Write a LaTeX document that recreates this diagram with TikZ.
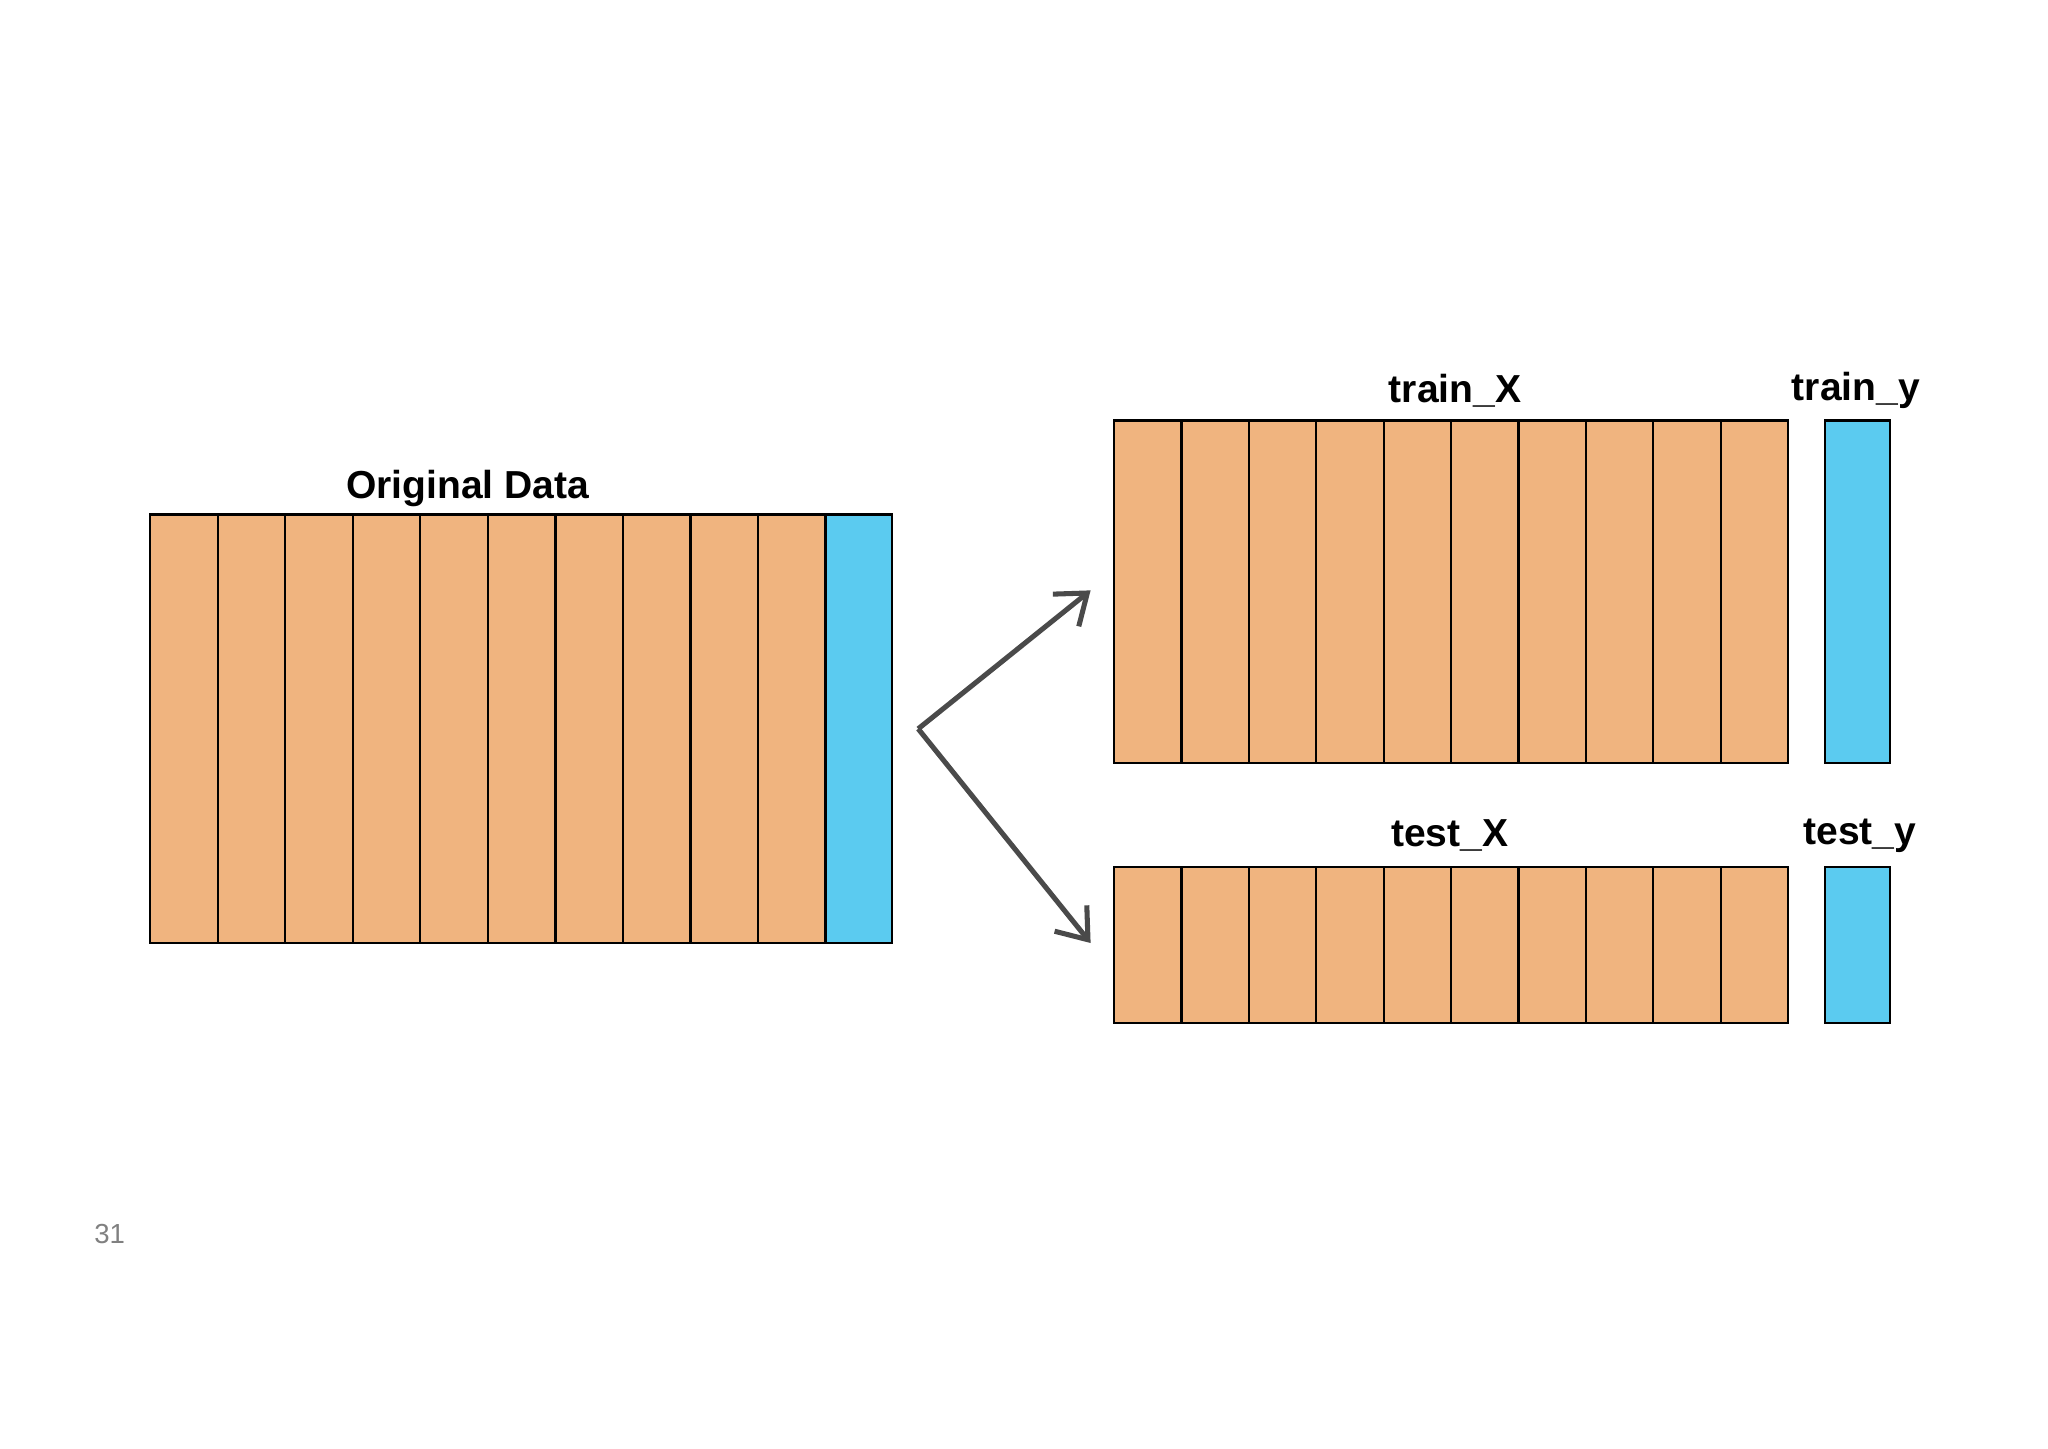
\documentclass[tikz,border=0pt]{standalone}
\usepackage{fontspec}
\setmainfont{Liberation Sans}
\usetikzlibrary{arrows.meta}
\definecolor{org}{HTML}{F0B47F}
\definecolor{blu}{HTML}{5BCBF0}
\definecolor{arr}{HTML}{4A4A4A}
\begin{document}
\begin{tikzpicture}[x=0.01cm,y=-0.01cm,
  cell/.style={draw=black,line width=0.5pt},
  lbl/.style={font=\fontsize{8.5}{10}\selectfont\bfseries,inner sep=0pt},
  conn/.style={draw=arr,line width=1.1pt,-{Straight Barb[length=6pt,width=9pt,line width=1.1pt]}}]
\useasboundingbox (0,0) rectangle (1568,1109);
% original
\foreach \i in {0,...,9}{\fill[org,cell] ({115+\i*51.7},394) rectangle ({115+(\i+1)*51.7},722);}
\fill[blu,cell] (632,394) rectangle (683,722);
\node[lbl] (orig) at (358,374) {Original Data};
% train
\foreach \i in {0,...,9}{\fill[org,cell] ({853+\i*51.6},322) rectangle ({853+(\i+1)*51.6},584);}
\fill[blu,cell] (1397,322) rectangle (1447,584);
\node[lbl] (trx) at (1114,299) {train\_X};
\node[lbl] (try) at (1421,299) {train\_y};
% test
\foreach \i in {0,...,9}{\fill[org,cell] ({853+\i*51.6},664) rectangle ({853+(\i+1)*51.6},783);}
\fill[blu,cell] (1397,664) rectangle (1447,783);
\node[lbl] (tex) at (1110,640) {test\_X};
\node[lbl] (tey) at (1424,640) {test\_y};
% arrows
\coordinate (s) at (703,558);
\coordinate (t1) at (835,452);
\coordinate (t2) at (835,722);
\draw[conn] (s) -- (t1);
\draw[conn,shorten <=0pt] (s) -- (t2);
\node[font=\fontsize{6}{7}\selectfont,text=gray] (pg) at (84,945) {31};
\end{tikzpicture}
\end{document}
